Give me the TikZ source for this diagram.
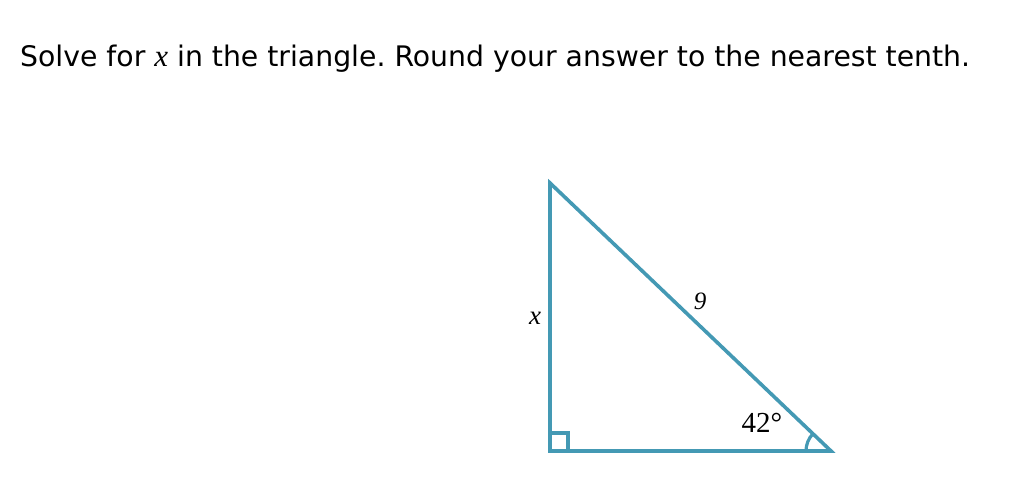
\documentclass[tikz,border=0pt]{standalone}
\usepackage{fontspec}
\setmainfont{Liberation Serif}
\newfontfamily\qfont{DejaVu Sans}
\usepackage{tikz}
\definecolor{tricol}{RGB}{68,153,180}
\tikzset{
  side/.style={draw=tricol,line width=3.6pt},
  anglemark/.style={draw=tricol,line width=3.2pt},
  lbl/.style={inner sep=0pt,font=\fontsize{25}{28}\selectfont}
}

\begin{document}
\frenchspacing
\begin{tikzpicture}[x=1pt,y=-1pt]
\useasboundingbox (0,0) rectangle (1010,490);
%
\node[anchor=base west,inner sep=0pt,font=\qfont\fontsize{28.3}{32}\selectfont] (q) at (20,66)
  {Solve for {\rmfamily\itshape\fontsize{31}{32}\selectfont x} in the triangle. Round your answer to the nearest tenth.};
% vertices
\coordinate (A) at (550,183);
\coordinate (C) at (550,451);
\coordinate (B) at (831,451);
% sides
\draw[side] (A) -- (C) -- (B) -- cycle;
% right angle and angle
\draw[anglemark] (C) ++(0,-18) -- ++(18,0) -- ++(0,18);
\draw[anglemark] (B) ++(-25,0) arc[start angle=180,end angle=223.6,radius=25];
% labels
\node[lbl,font=\fontsize{27}{28}\selectfont] (lx) at (535,318) {\textit{x}};
\node[lbl] (lh) at (700,301) {\textit{9}};
\node[lbl,font=\fontsize{29}{30}\selectfont] (la) at (762,423) {42°};
\end{tikzpicture}
\end{document}
